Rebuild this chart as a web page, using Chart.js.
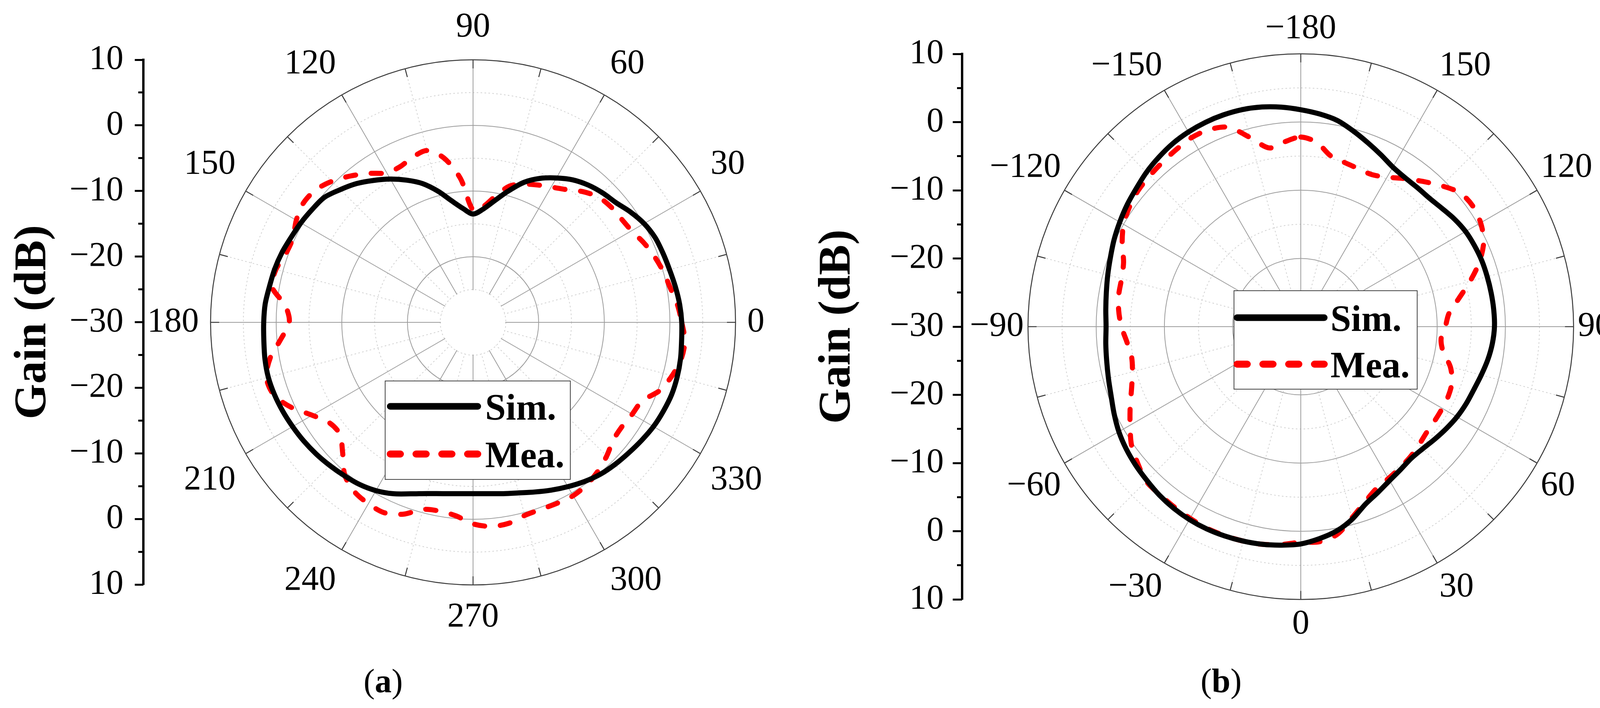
<!DOCTYPE html>
<html>
<head>
<meta charset="utf-8">
<script src="https://cdn.jsdelivr.net/npm/chart.js@4.4.1/dist/chart.umd.min.js"></script>
<style>
  html, body { margin: 0; padding: 0; background: #fff; }
  #page { position: relative; width: 4172px; height: 1812px; overflow: hidden; background: #fff; }
  canvas { position: absolute; }
  .cap { position: absolute; width: 300px; text-align: center; font-family: 'Liberation Serif', 'Times New Roman', serif; font-size: 86px; line-height: 86px; color: #000; }
</style>
</head>
<body>
<div id="page">
  <canvas id="axisA" width="400" height="1812" style="left:0px;top:0px;width:400px;height:1812px"></canvas>
  <canvas id="polarA" width="1600" height="1600" style="left:300px;top:0px;width:1600px;height:1600px"></canvas>
  <canvas id="axisB" width="440" height="1812" style="left:2060px;top:0px;width:440px;height:1812px"></canvas>
  <canvas id="polarB" width="1600" height="1600" style="left:2500px;top:0px;width:1600px;height:1600px"></canvas>
  <div class="cap" style="left:831px;top:1700px">(<b>a</b>)</div>
  <div class="cap" style="left:2976px;top:1699px">(<b>b</b>)</div>
</div>
<script>
// Gain axis labels (top to bottom, symmetric)
const gainTicks = [10, 0, -10, -20, -30, -20, -10, 0, 10];

// (a) angle in degrees, 0 at right, counter-clockwise
const anglesA = [0, 5, 10, 15, 20, 25, 30, 35, 40, 45, 50, 55,
  60, 65, 70, 75, 80, 85, 90, 95, 100, 105, 110, 115,
  120, 125, 130, 135, 140, 145, 150, 155, 160, 165, 170, 175,
  180, 185, 190, 195, 200, 205, 210, 215, 220, 225, 230, 235,
  240, 245, 250, 255, 260, 265, 270, 275, 280, 285, 290, 295,
  300, 305, 310, 315, 320, 325, 330, 335, 340, 345, 350, 355];
const simA = [1.8, 1.6, 1.3, 1.0, 0.8, 0.6, 0.1, -0.7, -1.6, -2.1, -2.7, -3.5,
  -4.6, -5.8, -7.3, -9.3, -11.2, -12.7, -13.5, -12.6, -11.2, -9.3, -7.5, -6.1,
  -4.8, -3.6, -2.4, -1.4, -0.4, -0.05, 0.3, 0.6, 1.0, 1.3, 1.5, 1.8,
  1.9, 2.0, 2.2, 2.3, 2.2, 2.0, 1.75, 1.5, 1.2, 0.85, 0.5, 0.15,
  -0.4, -1.2, -2.2, -3.0, -3.5, -3.8, -3.9, -3.8, -3.5, -3.1, -2.5, -1.8,
  -1.1, -0.4, 0.2, 0.6, 0.95, 1.35, 1.75, 2.0, 2.2, 2.2, 2.1, 1.9];
const meaA = [1.8, 1.25, 0.5, 0.0, -0.6, -1.3, -2.1, -2.45, -2.6, -3.0, -4.0, -5.3,
  -6.2, -6.9, -7.6, -8.5, -10.5, -12.3, -12.9, -8.0, -4.6, -2.9, -3.2, -3.8,
  -3.7, -2.3, -0.9, 0.4, 1.35, 1.6, 1.1, 0.3, 0.4, 1.1, 1.1, -1.3,
  -2.0, -0.6, 1.4, 2.6, 2.3, 0.6, -1.7, -3.3, -3.5, -1.9, 0.4, 1.5,
  1.9, 2.0, 1.1, -0.5, -0.8, -0.4, 0.7, 1.2, 1.1, 0.45, 0.3, 0.4,
  0.5, 0.2, -0.4, -1.2, -2.1, -2.3, -2.0, -1.6, 0.3, 1.4, 2.2, 2.4];

// (b) angle in degrees, 0 at bottom, 90 at right, -180 at top
const anglesB = [-180, -175, -170, -165, -160, -155, -150, -145, -140, -135, -130, -125,
  -120, -115, -110, -105, -100, -95, -90, -85, -80, -75, -70, -65,
  -60, -55, -50, -45, -40, -35, -30, -25, -20, -15, -10, -5,
  0, 5, 10, 15, 20, 25, 30, 35, 40, 45, 50, 55,
  60, 65, 70, 75, 80, 85, 90, 95, 100, 105, 110, 115,
  120, 125, 130, 135, 140, 145, 150, 155, 160, 165, 170, 175];
const simB = [1.8, 2.3, 2.7, 2.95, 3.05, 3.05, 2.95, 2.75, 2.4, 2.0, 1.5, 1.1,
  0.65, 0.2, -0.3, -0.7, -1.05, -1.3, -1.45, -1.3, -1.1, -0.8, -0.4, 0.2,
  0.8, 1.25, 1.6, 1.9, 2.25, 2.5, 2.65, 2.7, 2.65, 2.55, 2.4, 2.15,
  1.85, 1.2, 0.4, -0.8, -2.3, -3.2, -3.95, -4.45, -4.8, -4.7, -4.35, -3.95,
  -3.55, -3.25, -3.0, -2.6, -2.15, -1.8, -1.6, -1.6, -1.65, -1.7, -1.75, -1.9,
  -2.1, -2.5, -3.0, -3.35, -3.4, -3.35, -3.0, -2.2, -1.3, -0.3, 0.7, 1.3];
const meaB = [-2.2, -2.8, -3.4, -1.3, 1.1, 1.85, 2.0, 1.75, 1.5, 1.3, 1.1, 0.65,
  0.0, -1.1, -2.35, -2.8, -2.9, -3.2, -3.7, -4.4, -4.8, -4.45, -3.6, -2.4,
  -1.1, 0.3, 1.2, 2.05, 2.15, 2.3, 2.45, 2.6, 2.6, 2.55, 2.4, 2.05,
  1.6, 1.65, 0.9, -1.0, -2.6, -3.8, -4.3, -4.7, -5.05, -5.5, -5.9, -6.0,
  -6.05, -6.1, -6.4, -7.3, -8.8, -9.35, -8.8, -8.2, -6.5, -4.3, -2.1, -0.4,
  0.45, 0.8, 0.5, -0.8, -2.2, -3.5, -4.7, -5.4, -5.35, -5.1, -4.6, -2.9];

const SERIF = "'Liberation Serif', 'Times New Roman', serif";
Chart.defaults.font.family = SERIF;
Chart.defaults.color = '#000';

const fmt = v => v < 0 ? '\u2212' + Math.abs(v) : String(v);

// white hub in the middle plus short ticks inside the outer ring
const hubMask = {
  id: 'hubMask',
  beforeDatasetsDraw(chart, args, opts) {
    const r = chart.scales.r;
    const ctx = chart.ctx;
    const rad = r.getDistanceFromCenterForValue(opts.value) - 1.5;
    ctx.save();
    ctx.fillStyle = '#fff';
    ctx.beginPath();
    ctx.arc(r.xCenter, r.yCenter, rad, 0, Math.PI * 2);
    ctx.fill();
    const outer = r.getDistanceFromCenterForValue(r.max);
    ctx.strokeStyle = '#3a3a3a';
    ctx.lineWidth = 2.5;
    opts.tickAt.forEach(i => {
      const p0 = r.getPointPosition(i, outer - opts.tickLen);
      const p1 = r.getPointPosition(i, outer);
      ctx.beginPath();
      ctx.moveTo(p0.x, p0.y);
      ctx.lineTo(p1.x, p1.y);
      ctx.stroke();
    });
    ctx.restore();
  }
};

// framed legend sitting inside the plot
const boxLegend = {
  id: 'boxLegend',
  afterDatasetsDraw(chart, args, opts) {
    const r = chart.scales.r;
    const ctx = chart.ctx;
    const left = r.xCenter + opts.dx, top = r.yCenter + opts.dy;
    ctx.save();
    ctx.fillStyle = '#fff';
    ctx.fillRect(left, top, opts.w, opts.h);
    ctx.strokeStyle = '#444';
    ctx.lineWidth = 2;
    ctx.strokeRect(left, top, opts.w, opts.h);
    chart.data.datasets.forEach((ds, k) => {
      const y = top + opts.rows[k];
      ctx.strokeStyle = ds.borderColor;
      ctx.lineWidth = opts.widths[k];
      ctx.lineCap = 'round';
      ctx.setLineDash(ds.borderDash || []);
      ctx.beginPath();
      ctx.moveTo(left + opts.line[0], y);
      ctx.lineTo(left + opts.line[1], y);
      ctx.stroke();
      ctx.setLineDash([]);
      ctx.fillStyle = '#000';
      ctx.font = 'bold 95px ' + SERIF;
      ctx.textBaseline = 'alphabetic';
      ctx.fillText(ds.label, left + opts.textX, y + 34);
    });
    ctx.restore();
  }
};

function polarPanel(id, angles, sim, mea, o) {
  const n = angles.length;
  // radar runs clockwise, the plots run counter-clockwise
  const order = angles.map((a, i) => (n - i) % n);
  const angleAt = i => angles[order[i]];
  const labels = order.map(j => angles[j] % 30 === 0 ? fmt(angles[j]) : '');
  const pick = arr => order.map(j => arr[j]);
  const tickAt = order.map((j, i) => i).filter(i => angleAt(i) % 15 === 0);

  const makeConfig = () => ({
    type: 'radar',
    data: {
      labels: labels,
      datasets: [{
        label: 'Sim.',
        data: pick(sim),
        borderColor: '#000',
        borderWidth: 13,
        borderJoinStyle: 'round',
        pointRadius: 0,
        fill: false,
        tension: 0.3
      }, {
        label: 'Mea.',
        data: pick(mea),
        borderColor: '#ff0000',
        borderWidth: 13,
        borderDash: [26, 40],
        borderCapStyle: 'round',
        borderJoinStyle: 'round',
        pointRadius: 0,
        fill: false,
        tension: 0.3
      }]
    },
    options: {
      responsive: false,
      animation: false,
      events: [],
      plugins: {
        legend: { display: false },
        tooltip: { enabled: false },
        hubMask: { value: -25, tickAt: tickAt, tickLen: 22 },
        boxLegend: o.legend
      },
      scales: {
        r: {
          min: -30,
          max: 10,
          startAngle: o.start,
          ticks: { display: false, stepSize: 5 },
          grid: {
            circular: true,
            color: ctx => {
              const v = ctx.tick.value;
              if (v === 10) return '#3a3a3a';
              return (v + 30) % 10 === 0 ? '#9d9d9d' : '#d2d2d2';
            },
            lineWidth: ctx => ctx.tick.value === -30 ? 0 : (ctx.tick.value === 10 ? 2.5 : 2)
          },
          border: {
            dash: ctx => (ctx.tick && (ctx.tick.value + 30) % 10 !== 0) ? [4, 6] : []
          },
          angleLines: {
            color: ctx => angleAt(ctx.index) % 30 === 0 ? '#9d9d9d' : '#d2d2d2',
            lineWidth: ctx => angleAt(ctx.index) % 15 === 0 ? 2 : 0,
            borderDash: ctx => angleAt(ctx.index) % 30 === 0 ? [] : [4, 6]
          },
          pointLabels: {
            padding: o.pad,
            color: '#000',
            font: { family: SERIF, size: 88 }
          }
        }
      }
    },
    plugins: [hubMask, boxLegend]
  });

  const canvas = document.getElementById(id);
  // first pass: let Chart.js tell how much room the angle labels take
  let chart = new Chart(canvas, makeConfig());
  const r = chart.scales.r;
  const half = Math.floor(Math.min(r.width, r.height) / 2);
  const room = half - r.drawingArea;
  const offX = r.xCenter - half;
  const offY = r.yCenter - half;
  chart.destroy();

  // second pass: size the canvas so the outer ring has the wanted radius
  const d0 = Math.round(o.radius + room);
  const size = 2 * d0;
  canvas.width = size;
  canvas.height = size;
  canvas.style.width = size + 'px';
  canvas.style.height = size + 'px';
  canvas.style.left = (o.cx - d0 - offX) + 'px';
  canvas.style.top = (o.cy - d0 - offY) + 'px';
  new Chart(canvas, makeConfig());
}

function gainAxis(id, o) {
  new Chart(document.getElementById(id), {
    type: 'line',
    data: { labels: [], datasets: [] },
    options: {
      responsive: false,
      animation: false,
      events: [],
      layout: { padding: { top: o.top, bottom: o.bottom, left: 0, right: 0 } },
      plugins: { legend: { display: false }, tooltip: { enabled: false } },
      scales: {
        x: { display: false },
        y: {
          position: 'left',
          weight: 1,
          min: -40,
          max: 40,
          afterFit: s => { s.width = o.width; },
          ticks: {
            stepSize: 10,
            padding: o.tickPad,
            color: '#000',
            font: { family: SERIF, size: 88 },
            callback: (v, i) => fmt(gainTicks[i])
          },
          grid: { drawOnChartArea: false, tickLength: o.major, tickWidth: 5, tickColor: '#000' },
          border: { color: '#000', width: 6 },
          title: {
            display: true,
            text: 'Gain (dB)',
            color: '#000',
            font: { family: SERIF, size: 117, weight: 'bold' },
            padding: { top: o.titlePad, bottom: 0 }
          }
        },
        y2: {
          position: 'left',
          weight: 0,
          min: -40,
          max: 40,
          afterFit: s => { s.width = 0; },
          ticks: { display: false, stepSize: 5 },
          grid: { drawOnChartArea: false, tickLength: 13, tickWidth: 5, tickColor: '#000' },
          border: { display: false }
        }
      }
    }
  });
}

gainAxis('axisA', { top: 153, bottom: 316, width: 367, tickPad: 29, major: 22, titlePad: 16 });
gainAxis('axisB', { top: 138, bottom: 278, width: 403, tickPad: 23, major: 24, titlePad: 15 });

polarPanel('polarA', anglesA, simA, meaA, {
  start: 90, pad: 30, cx: 1211, cy: 825, radius: 672,
  legend: { dx: -225, dy: 150, w: 474, h: 252, rows: [65, 187], line: [13, 237], textX: 256, widths: [17, 18] }
});
polarPanel('polarB', anglesB, simB, meaB, {
  start: 0, pad: 11, cx: 3330, cy: 836, radius: 698,
  legend: { dx: -171, dy: -92, w: 469, h: 252, rows: [69, 188], line: [8, 231], textX: 247, widths: [17, 18] }
});
</script>
</body>
</html>
